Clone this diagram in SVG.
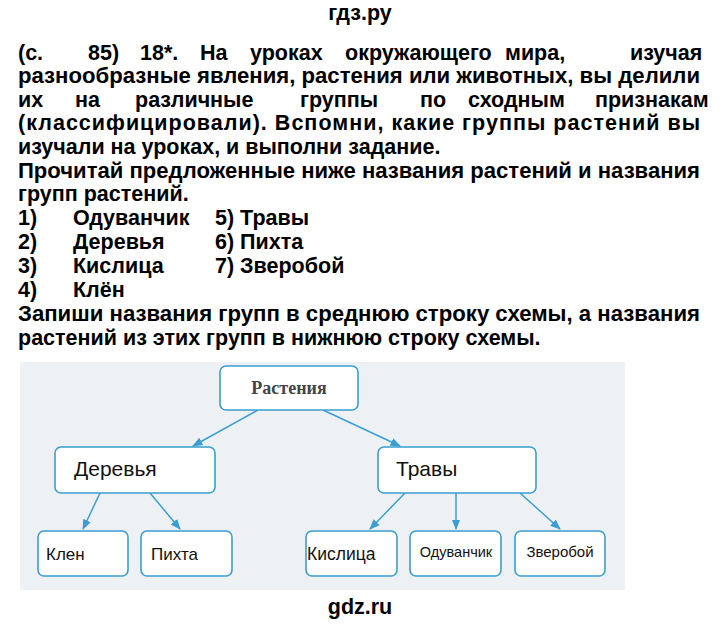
<svg xmlns="http://www.w3.org/2000/svg" width="720" height="630" viewBox="0 0 720 630">
<style>
.t{font-family:"Liberation Sans",Arial,sans-serif;font-weight:bold;font-size:21.5px;fill:#000}
.n rect{fill:#fff;stroke:#3a9fd0;stroke-width:1.6}
.n text{font-family:"Liberation Sans",Arial,sans-serif;font-size:17px;fill:#111}
.c line{stroke:#3a9fd0;stroke-width:1.5;marker-end:url(#a)}
</style>
<defs><marker id="a" viewBox="0 0 10 10" refX="9" refY="5" markerWidth="7" markerHeight="7" orient="auto"><path d="M0,1 L10,5 L0,9 Z" fill="#3a9fd0"/></marker></defs>
<rect width="720" height="630" fill="#fff"/>
<text class="t" x="360" y="20" text-anchor="middle" font-size="22">гдз.ру</text>
<text class="t" y="60"><tspan x="18">(с.</tspan><tspan x="88">85)</tspan><tspan x="140">18*.</tspan><tspan x="200">На</tspan><tspan x="250">уроках</tspan><tspan x="345">окружающего</tspan><tspan x="505">мира,</tspan><tspan x="630">изучая</tspan></text>
<text class="t" x="18" y="83" textLength="682" lengthAdjust="spacingAndGlyphs">разнообразные явления, растения или животных, вы делили</text>
<text class="t" y="107"><tspan x="18">их</tspan><tspan x="75">на</tspan><tspan x="135">различные</tspan><tspan x="300">группы</tspan><tspan x="420">по</tspan><tspan x="468">сходным</tspan><tspan x="595">признакам</tspan></text>
<text class="t" x="18" y="130" textLength="682" lengthAdjust="spacing">(классифицировали). Вспомни, какие группы растений вы</text>
<text class="t" x="18" y="154">изучали на уроках, и выполни задание.</text>
<text class="t" x="18" y="178" textLength="682" lengthAdjust="spacingAndGlyphs">Прочитай предложенные ниже названия растений и названия</text>
<text class="t" x="18" y="201">групп растений.</text>
<text class="t" x="18" y="225">1)</text><text class="t" x="73" y="225">Одуванчик</text><text class="t" x="215" y="225">5) Травы</text>
<text class="t" x="18" y="249">2)</text><text class="t" x="73" y="249">Деревья</text><text class="t" x="215" y="249">6) Пихта</text>
<text class="t" x="18" y="273">3)</text><text class="t" x="73" y="273">Кислица</text><text class="t" x="215" y="273">7) Зверобой</text>
<text class="t" x="18" y="297">4)</text><text class="t" x="73" y="297">Клён</text>
<text class="t" x="18" y="321" textLength="682" lengthAdjust="spacingAndGlyphs">Запиши названия групп в среднюю строку схемы, а названия</text>
<text class="t" x="18" y="345">растений из этих групп в нижнюю строку схемы.</text>
<rect x="20" y="362" width="605" height="228" fill="#eef1f4"/>
<g class="c">
<line x1="258" y1="410" x2="193" y2="446"/>
<line x1="323" y1="410" x2="400" y2="446"/>
<line x1="100" y1="493" x2="83" y2="529"/>
<line x1="150" y1="493" x2="180" y2="529"/>
<line x1="405" y1="493" x2="370" y2="529"/>
<line x1="456" y1="493" x2="456" y2="529"/>
<line x1="520" y1="493" x2="560" y2="529"/>
</g>
<g id="rast" class="n"><rect x="220" y="366" width="138" height="44" rx="6"/><text x="289" y="394" text-anchor="middle" style="font-family:'Liberation Serif',serif;font-weight:bold;font-size:18px;fill:#444">Растения</text></g>
<g id="der" class="n"><rect x="55" y="447" width="160" height="46" rx="6"/><text x="74" y="476" style="font-size:21px">Деревья</text></g>
<g id="trav" class="n"><rect x="378" y="447" width="158" height="46" rx="6"/><text x="396" y="476" style="font-size:21px">Травы</text></g>
<g id="klen" class="n"><rect x="38" y="531" width="90" height="45" rx="6"/><text x="46" y="560">Клен</text></g>
<g id="piht" class="n"><rect x="141" y="531" width="91" height="45" rx="6"/><text x="151" y="560">Пихта</text></g>
<g id="kisl" class="n"><rect x="306" y="531" width="91" height="45" rx="6"/><text x="307" y="560" style="font-size:17.5px">Кислица</text></g>
<g id="oduv" class="n"><rect x="410" y="531" width="91" height="45" rx="6"/><text x="456" y="557" text-anchor="middle" style="font-size:14.5px">Одуванчик</text></g>
<g id="zver" class="n"><rect x="515" y="531" width="90" height="45" rx="6"/><text x="560" y="557" text-anchor="middle" style="font-size:15px">Зверобой</text></g>
<text class="t" x="360" y="614" text-anchor="middle" font-size="22">gdz.ru</text>
</svg>
